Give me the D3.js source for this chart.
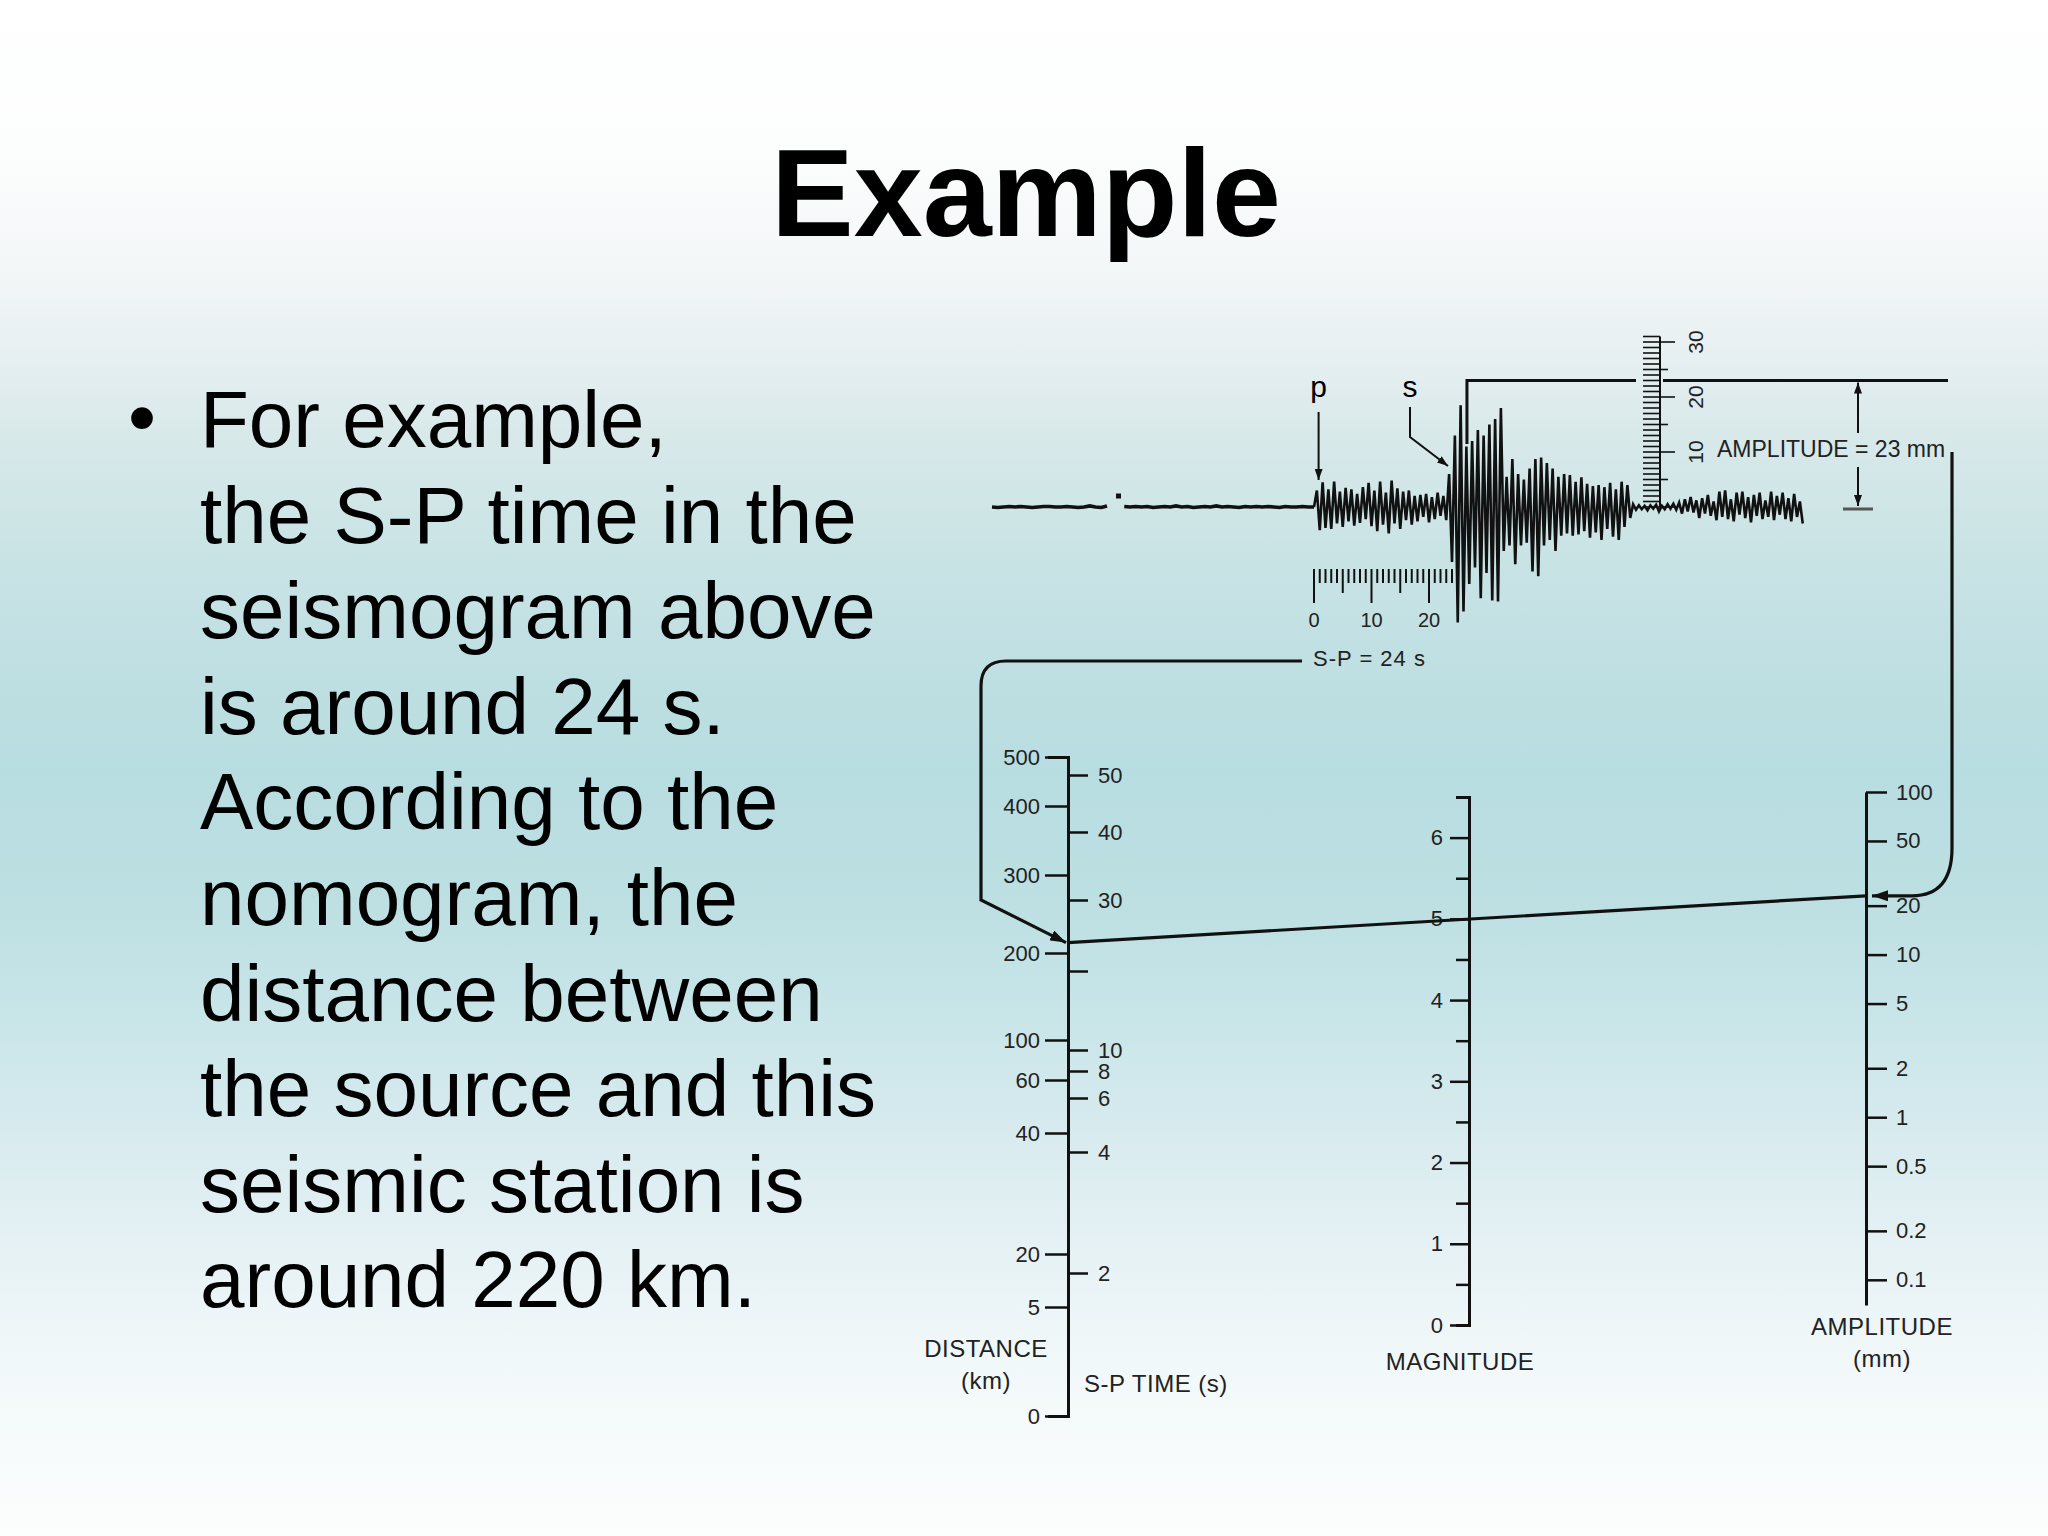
<!DOCTYPE html>
<html>
<head>
<meta charset="utf-8">
<script src="https://cdn.jsdelivr.net/npm/d3@7"></script>
<style>
  html, body { margin: 0; padding: 0; background: #fff; }
  svg { display: block; }
  text { font-family: "Liberation Sans", Arial, sans-serif; }
</style>
</head>
<body>
<div id="slide"></div>
<script>
// ---------- data ----------
var title = "Example";
var bulletLines = [
  "For example,",
  "the S-P time in the",
  "seismogram above",
  "is around 24 s.",
  "According to the",
  "nomogram, the",
  "distance between",
  "the source and this",
  "seismic station is",
  "around 220 km."
];

// seismogram, amplitude in mm; quiet part every 1 s from -56 s, signal every 0.5 s from P
var preStart = -56, preStep = 1;
var preTrace = [0, -0.1, 0, 0.1, 0, 0.1, 0, -0.1, 0, 0.1, 0.1, 0, 0, 0.1, 0, -0.1, 0, 0.2,
  0, -0.1, 0.2, null, null, 0.1, 0, 0.1, 0, 0.1, -0.1, 0, 0.1, 0, 0.2, 0, 0.1, -0.1, 0, 0.1,
  0, 0.2, 0, 0.1, 0, -0.1, 0.1, 0, 0.1, 0, 0.1, 0, -0.1, 0.1, 0, 0, 0.1, 0, 0];
var traceStep = 0.5;
var pWave = [0, 3.0, -4.2, 4.5, -3.8, 3.2, -4.0, 4.6, -3.0, 2.8, -3.6, 3.5, -2.6, 3.2, -3.4,
  2.4, -2.9, 3.6, -2.2, 4.4, -3.5, 3.0, -4.4, 4.6, -3.2, 2.6, -4.8, 4.8, -3.0, 3.4, -4.0,
  2.8, -2.4, 3.0, -3.2, 2.0, -2.6, 2.2, -1.8, 2.4, -2.8, 1.8, -2.2, 2.6, -1.6, 2.0, -2.4];
var sWave = [6, -10, 13, -21, 18.5, -19, 11, -14, 12, -11, 14, -16.6, 13, -12, 15, -17, 16,
  -17.2, 18, -8, 5.5, -7, 8.7, -10.4, 6, -7, 5, -6.5, 7, -11.7, 8.7, -12.6, 9, -7, 8, -6, 7,
  -8, 5.5, -5.2, 6, -4.8, 5.8, -5.2, 4.6, -5, 5.4, -4.4, 4.2, -5.6, 3.8, -4.6, 4, -6, 3.6,
  -4, 4.4, -5.4, 3.2, -6, 4.6, -3.6, 4, -2, 0.5, -0.5];
var coda = [0.3, -0.4, 0.2, -0.6, 0.3, -0.3, 0.4, -0.8, 0.2, -0.4, 0.5, -0.3, 0.6, -0.5, 0.8,
  -1.2, 1.4, -0.8, 1.8, -1.0, 1.2, -2.0, 1.6, -1.2, 2.2, -1.6, 1.0, -2.4, 2.8, -1.8, 3.0,
  -2.2, 1.4, -2.6, 2.6, -1.4, 2.8, -2.0, 1.8, -2.8, 2.2, -1.6, 2.6, -2.2, 1.2, -1.8, 2.8,
  -2.4, 2.0, -1.4, 2.6, -2.2, 1.6, -2.6, 2.4, -1.8, 1.0, -3.0];
var speck = { t: -34, mm: 2 };

var secTicks = d3.range(0, 25);
var secLabels = [0, 10, 20];
var rulerTicks = d3.range(0, 32);
var rulerLabels = [10, 20, 30];

var spReading = 24;     // s
var ampReading = 23;    // mm

var distTicks = [0, 5, 20, 40, 60, 100, 200, 300, 400, 500];
var spTicks = [2, 4, 6, 8, 10, 20, 30, 40, 50];
var spUnlabeled = [20];
var magTicks = [0, 1, 2, 3, 4, 5, 6];
var magHalfTicks = [0.5, 1.5, 2.5, 3.5, 4.5, 5.5];
var ampTicks = [0.1, 0.2, 0.5, 1, 2, 5, 10, 20, 50, 100];

// ---------- page ----------
var W = 2048, H = 1536;
var ink = "#111";

var svg = d3.select("#slide").append("svg")
    .attr("width", W)
    .attr("height", H);

var defs = svg.append("defs");
var grad = defs.append("linearGradient")
    .attr("id", "bg")
    .attr("x1", 0).attr("y1", 0).attr("x2", 0).attr("y2", 1);
[[0, "#ffffff"], [0.1, "#fcfdfd"], [0.17, "#f4f7f8"], [0.22, "#eaf1f3"], [0.28, "#d9e9ea"],
 [0.35, "#cbe4e5"], [0.42, "#c1e0e3"], [0.5, "#b8dde0"], [0.58, "#bcdfe2"], [0.66, "#c8e5e8"],
 [0.74, "#d8ebef"], [0.82, "#e7f2f5"], [0.9, "#f3f9fa"], [1, "#fcfdfd"]].forEach(function(s) {
  grad.append("stop").attr("offset", s[0]).attr("stop-color", s[1]);
});

function marker(id, w, h) {
  defs.append("marker")
      .attr("id", id)
      .attr("markerUnits", "userSpaceOnUse")
      .attr("viewBox", "0 0 " + w + " " + h)
      .attr("refX", w).attr("refY", h / 2)
      .attr("markerWidth", w).attr("markerHeight", h)
      .attr("orient", "auto")
    .append("path")
      .attr("d", "M0,0L" + w + "," + (h / 2) + "L0," + h + "Z")
      .attr("fill", ink);
}
marker("arrow", 16, 11);
marker("arrowSmall", 11, 8);

svg.append("rect").attr("width", W).attr("height", H).attr("fill", "url(#bg)");

// title + bullet text
svg.append("text")
    .attr("x", 1026).attr("y", 236)
    .attr("text-anchor", "middle")
    .attr("font-size", 124)
    .attr("font-weight", "bold")
    .text(title);

svg.append("text")
    .attr("x", 128).attr("y", 445)
    .attr("font-size", 80)
    .text("\u2022");

svg.append("g").selectAll("text")
    .data(bulletLines)
  .enter().append("text")
    .attr("x", 200)
    .attr("y", function(d, i) { return 447 + i * 95.6; })
    .attr("font-size", 80)
    .text(function(d) { return d; });

// ---------- seismogram ----------
var t = d3.scaleLinear().domain([0, 10]).range([1314, 1371.5]);
var mm = d3.scaleLinear().domain([0, 10]).range([507, 452]);

var seis = svg.append("g").attr("class", "seismogram");

var traceLine = d3.line()
    .defined(function(d) { return d.mm !== null; })
    .x(function(d) { return t(d.t); })
    .y(function(d) { return mm(d.mm); });

var prePts = preTrace.map(function(v, i) { return { t: preStart + i * preStep, mm: v }; });
var sigPts = pWave.concat(sWave, coda).map(function(v, i) { return { t: i * traceStep, mm: v }; });

seis.append("path")
    .attr("d", traceLine(prePts))
    .attr("fill", "none")
    .attr("stroke", ink)
    .attr("stroke-width", 3.6);

seis.append("rect")
    .attr("x", t(speck.t) - 2.5).attr("y", mm(speck.mm) - 2.5)
    .attr("width", 5).attr("height", 5)
    .attr("fill", ink);

seis.append("path")
    .attr("d", traceLine(sigPts))
    .attr("fill", "none")
    .attr("stroke", ink)
    .attr("stroke-width", 2.6)
    .attr("stroke-linejoin", "miter");

// p and s arrivals
var pX = t(0.8), sX = t(spReading);
seis.append("text").attr("x", pX).attr("y", 397).attr("text-anchor", "middle")
    .attr("font-size", 30).text("p");
seis.append("line")
    .attr("x1", pX).attr("y1", 412).attr("x2", pX).attr("y2", 480)
    .attr("stroke", ink).attr("stroke-width", 2)
    .attr("marker-end", "url(#arrowSmall)");
seis.append("text").attr("x", 1410).attr("y", 397).attr("text-anchor", "middle")
    .attr("font-size", 30).text("s");
seis.append("path")
    .attr("d", "M1410,407V437L" + (sX - 4) + ",466")
    .attr("fill", "none").attr("stroke", ink).attr("stroke-width", 2)
    .attr("marker-end", "url(#arrowSmall)");

// seconds scale under the trace
seis.append("g").selectAll("line")
    .data(secTicks)
  .enter().append("line")
    .attr("x1", function(d) { return t(d); })
    .attr("x2", function(d) { return t(d); })
    .attr("y1", 569)
    .attr("y2", function(d) { return d % 10 === 0 ? 603 : d % 5 === 0 ? 593 : 583; })
    .attr("stroke", ink)
    .attr("stroke-width", 2);

seis.append("g").selectAll("text")
    .data(secLabels)
  .enter().append("text")
    .attr("x", function(d) { return t(d); })
    .attr("y", 627)
    .attr("text-anchor", "middle")
    .attr("font-size", 20)
    .attr("fill", "#222")
    .text(function(d) { return d; });

// amplitude ruler
var rulerX = 1660;
seis.append("line")
    .attr("x1", rulerX).attr("x2", rulerX)
    .attr("y1", mm(0)).attr("y2", mm(31))
    .attr("stroke", ink).attr("stroke-width", 2);
seis.append("g").selectAll("line")
    .data(rulerTicks)
  .enter().append("line")
    .attr("x1", rulerX - 17)
    .attr("x2", function(d) { return d % 10 === 0 ? rulerX + 15 : d % 5 === 0 ? rulerX + 8 : rulerX; })
    .attr("y1", function(d) { return mm(d); })
    .attr("y2", function(d) { return mm(d); })
    .attr("stroke", ink)
    .attr("stroke-width", 1.6);
seis.append("g").selectAll("text")
    .data(rulerLabels)
  .enter().append("text")
    .attr("transform", function(d) { return "translate(1696," + mm(d) + ") rotate(-90)"; })
    .attr("text-anchor", "middle")
    .attr("dy", "0.35em")
    .attr("font-size", 21)
    .attr("fill", "#222")
    .text(function(d) { return d; });

// amplitude bracket
var topY = mm(ampReading);
var bracket = seis.append("g")
    .attr("fill", "none")
    .attr("stroke", ink)
    .attr("stroke-width", 3);
bracket.append("path").attr("d", "M" + t(26.6) + ",444V" + topY + "H1636");
bracket.append("path").attr("d", "M1663," + topY + "H1948");

var dimX = 1858;
seis.append("line")
    .attr("x1", dimX).attr("x2", dimX).attr("y1", 433).attr("y2", topY + 2)
    .attr("stroke", ink).attr("stroke-width", 2)
    .attr("marker-end", "url(#arrowSmall)");
seis.append("line")
    .attr("x1", dimX).attr("x2", dimX).attr("y1", 467).attr("y2", mm(0) - 1)
    .attr("stroke", ink).attr("stroke-width", 2)
    .attr("marker-end", "url(#arrowSmall)");
seis.append("line")
    .attr("x1", dimX - 15).attr("x2", dimX + 15).attr("y1", mm(0) + 2).attr("y2", mm(0) + 2)
    .attr("stroke", "#555").attr("stroke-width", 3);

seis.append("text")
    .attr("x", 1717).attr("y", 457)
    .attr("font-size", 23)
    .attr("fill", "#222")
    .text("AMPLITUDE = " + ampReading + " mm");

seis.append("text")
    .attr("x", 1313).attr("y", 666)
    .attr("font-size", 22)
    .attr("letter-spacing", 1)
    .attr("fill", "#222")
    .text("S-P = " + spReading + " s");

// ---------- nomogram ----------
var distX = 1068, magX = 1469, ampX = 1866;

// hand-drawn scales: calibrated piecewise on the printed tick marks
var dist = d3.scaleLinear().domain(distTicks)
    .range([1416, 1307, 1254, 1133, 1080, 1040, 953, 875, 806, 757]);
var sp = d3.scaleLinear().domain(spTicks)
    .range([1273, 1152, 1098, 1071, 1050, 971, 900, 832, 775]);
var mag = d3.scaleLinear().domain([0, 6.5]).range([1325, 797]);
var amp = d3.scaleLog().domain([0.07, 100]).range([1305, 792]);

function styleAxis(g, fontSize) {
  g.attr("font-family", null)
   .attr("font-size", fontSize)
   .attr("color", ink);
  g.select(".domain").attr("stroke-width", 3);
  g.selectAll(".tick line").attr("stroke-width", 2.5);
  g.selectAll(".tick text").attr("fill", "#222");
}

var nomo = svg.append("g").attr("class", "nomogram");

nomo.append("g")
    .attr("transform", "translate(" + distX + ",0)")
    .call(d3.axisLeft(dist).tickValues(distTicks).tickSize(23).tickSizeOuter(20).tickPadding(5)
      .tickFormat(d3.format("d")))
    .call(styleAxis, 22);

nomo.append("g")
    .attr("transform", "translate(" + distX + ",0)")
    .call(d3.axisRight(sp).tickValues(spTicks).tickSize(20).tickPadding(10)
      .tickFormat(function(d) { return spUnlabeled.indexOf(d) >= 0 ? "" : d; }))
    .call(styleAxis, 22)
    .call(function(g) { g.select(".domain").remove(); });

nomo.append("g")
    .attr("transform", "translate(" + magX + ",0)")
    .call(d3.axisLeft(mag).tickValues(magTicks).tickSize(19).tickSizeOuter(13).tickPadding(7)
      .tickFormat(d3.format("d")))
    .call(styleAxis, 22);

nomo.append("g")
    .attr("transform", "translate(" + magX + ",0)")
    .call(d3.axisLeft(mag).tickValues(magHalfTicks).tickSize(13).tickFormat(""))
    .call(styleAxis, 22)
    .call(function(g) { g.select(".domain").remove(); });

nomo.append("g")
    .attr("transform", "translate(" + ampX + ",0)")
    .call(d3.axisRight(amp).tickValues(ampTicks).tickSize(21).tickSizeOuter(0).tickPadding(9)
      .tickFormat(function(d) { return String(d); }))
    .call(styleAxis, 22);

// axis titles
var titles = nomo.append("g").attr("font-size", 24).attr("fill", "#222").attr("letter-spacing", 0.5);
titles.append("text").attr("x", 986).attr("y", 1357).attr("text-anchor", "middle").text("DISTANCE");
titles.append("text").attr("x", 986).attr("y", 1389).attr("text-anchor", "middle").text("(km)");
titles.append("text").attr("x", 1084).attr("y", 1392).text("S-P TIME (s)");
titles.append("text").attr("x", 1460).attr("y", 1370).attr("text-anchor", "middle").text("MAGNITUDE");
titles.append("text").attr("x", 1882).attr("y", 1335).attr("text-anchor", "middle").text("AMPLITUDE");
titles.append("text").attr("x", 1882).attr("y", 1367).attr("text-anchor", "middle").text("(mm)");

// reading lines
var spY = sp(spReading), ampY = amp(ampReading);
var leaders = nomo.append("g")
    .attr("fill", "none")
    .attr("stroke", ink)
    .attr("stroke-width", 3.2);

leaders.append("path")
    .attr("d", "M1302,661H1006Q981,661 981,686V900L" + (distX - 2) + "," + spY)
    .attr("marker-end", "url(#arrow)");

leaders.append("path")
    .attr("d", "M1952,452V848Q1952," + ampY + " 1912," + ampY + "H" + (ampX + 6))
    .attr("marker-end", "url(#arrow)");

leaders.append("line")
    .attr("x1", distX).attr("y1", spY)
    .attr("x2", ampX).attr("y2", ampY);
</script>
</body>
</html>
